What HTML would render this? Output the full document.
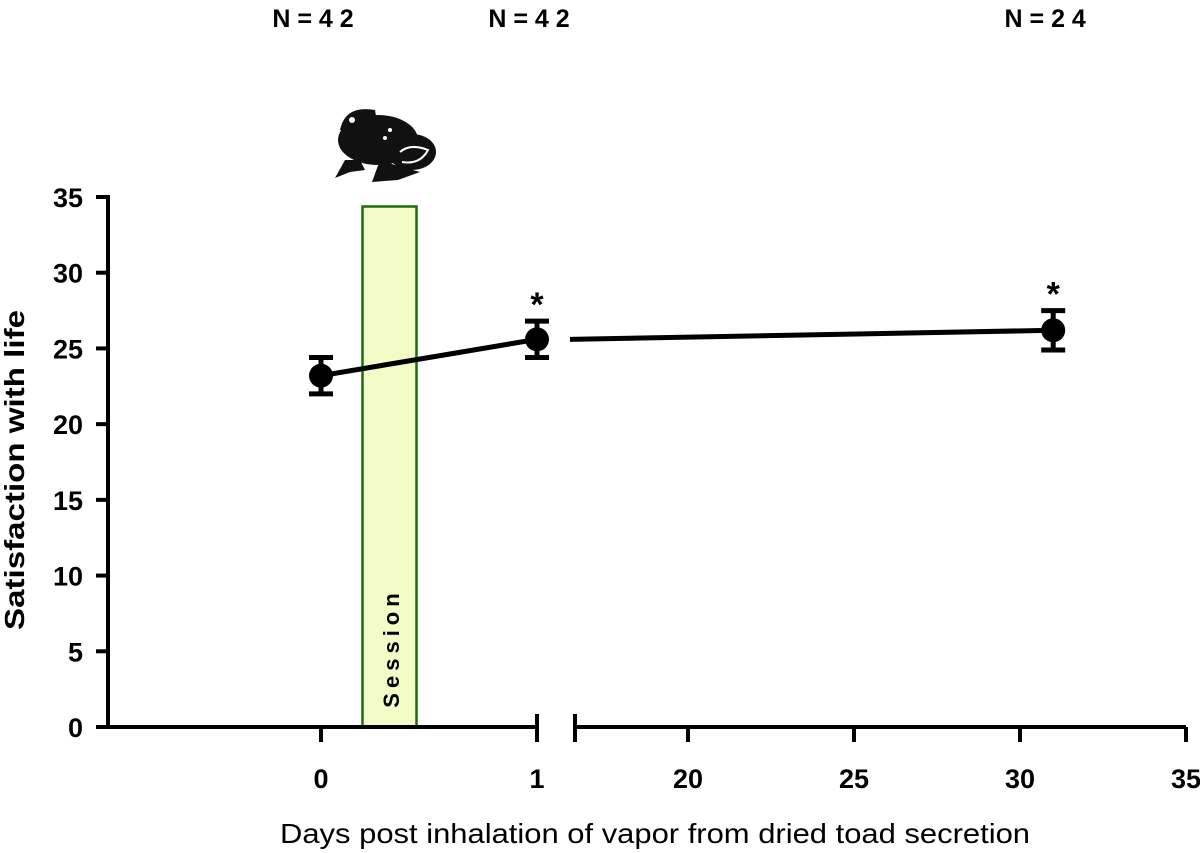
<!DOCTYPE html>
<html><head><meta charset="utf-8"><style>
body{margin:0;background:#fff;}
svg{display:block;font-family:"Liberation Sans",sans-serif;}
</style></head><body>
<svg id="c" width="1200" height="853" viewBox="0 0 1200 853">
<g id="toad" fill="#111">
<ellipse cx="378" cy="140" rx="40" ry="25"/>
<ellipse cx="412" cy="152" rx="24" ry="18"/>
<path d="M340 130 Q345 105 375 110 L380 140 Z"/>
<path d="M345 160 L335 178 L350 172 L365 170 L360 160 Z"/>
<path d="M380 160 L372 182 L398 180 L420 172 L395 165 Z"/>
<circle cx="352" cy="120" r="3" fill="#fff"/>
<circle cx="390" cy="130" r="2" fill="#fff"/><circle cx="385" cy="138" r="2" fill="#fff"/>
<path d="M400 152 Q410 143 428 150 Q420 165 402 162" fill="none" stroke="#fff" stroke-width="2"/>
</g>
<rect x="362.5" y="206.5" width="54" height="520" fill="#f3fcc6" stroke="#1d6b12" stroke-width="2.5"/>
<text transform="translate(399,648) rotate(-90)" text-anchor="middle" font-size="22" font-weight="bold" letter-spacing="5">Session</text>
<g id="axes" stroke="#000" stroke-width="4" fill="none"></g>
<g id="ticks" font-size="27" font-weight="bold"></g>
<g id="marks"></g>
<text x="280" y="843" font-size="28" textLength="750" lengthAdjust="spacingAndGlyphs">Days post inhalation of vapor from dried toad secretion</text>
<text transform="translate(24,630) rotate(-90)" font-size="28" font-weight="bold" textLength="320" lengthAdjust="spacingAndGlyphs">Satisfaction with life</text>
</svg>
<script>
const yTicks=[0,5,10,15,20,25,30,35];
const xTicks1=[0,1];
const xTicks2=[20,25,30,35];
const days=[0,1,31];
const means=[23.2,25.6,26.2];
const errs=[1.2,1.2,1.3];
const nLabels=["N = 4 2","N = 4 2","N = 2 4"];
const stars=[false,true,true];
const NS='http://www.w3.org/2000/svg';
const svg=document.getElementById('c');
function y(v){return 727-v*(530/35);}
function x(d){if(d<=1)return 321+d*216;return 688+(d-20)*(498/15);}
function mk(t,a,p){const e=document.createElementNS(NS,t);for(const k in a)e.setAttribute(k,a[k]);(p||svg).appendChild(e);return e;}
const ax=document.getElementById('axes'),tk=document.getElementById('ticks'),mg=document.getElementById('marks');
let e=mk('path',{d:'M108 195 L108 727 L537 727 M537 714 L537 742 M575 714 L575 742 M575 727 L1186 727'},ax);


yTicks.forEach(v=>{
 let l=mk('line',{x1:96,x2:108,y1:y(v),y2:y(v)},ax);
 
 
 let t=mk('text',{x:83,y:y(v)+10,'text-anchor':'end'},tk);t.textContent=v;
 
 
});
xTicks1.concat(xTicks2).forEach(v=>{
 let l=mk('line',{x1:x(v),x2:x(v),y1:727,y2:742},ax);
 
 
 let t=mk('text',{x:x(v),y:788,'text-anchor':'middle'},tk);t.textContent=v;
 
 
});
let l1=mk('line',{x1:x(days[0]),y1:y(means[0]),x2:x(days[1]),y2:y(means[1]),stroke:'#000','stroke-width':5},mg);


let l2=mk('line',{x1:570,y1:y(means[1]),x2:x(days[2]),y2:y(means[2]),stroke:'#000','stroke-width':5},mg);


days.forEach((d,i)=>{
 const cx=x(d),cy=y(means[i]),t=y(means[i]+errs[i]),b=y(means[i]-errs[i]);
 let g=mk('path',{d:`M${cx} ${t} L${cx} ${b} M${cx-12} ${t} L${cx+12} ${t} M${cx-12} ${b} L${cx+12} ${b}`,stroke:'#000','stroke-width':5,fill:'none'},mg);
 
 
 let c=mk('circle',{cx:cx,cy:cy,r:12,fill:'#000'},mg);
 
 
 if(stars[i]){let s=mk('text',{x:cx,y:t-5,'text-anchor':'middle','font-size':34,'font-weight':'bold'},mg);s.textContent='*';
 
 }
 let n=mk('text',{x:cx-8,y:27,'text-anchor':'middle','font-size':25,'font-weight':'bold'},mg);n.textContent=nLabels[i];
 
 
});
</script>
</body></html>
